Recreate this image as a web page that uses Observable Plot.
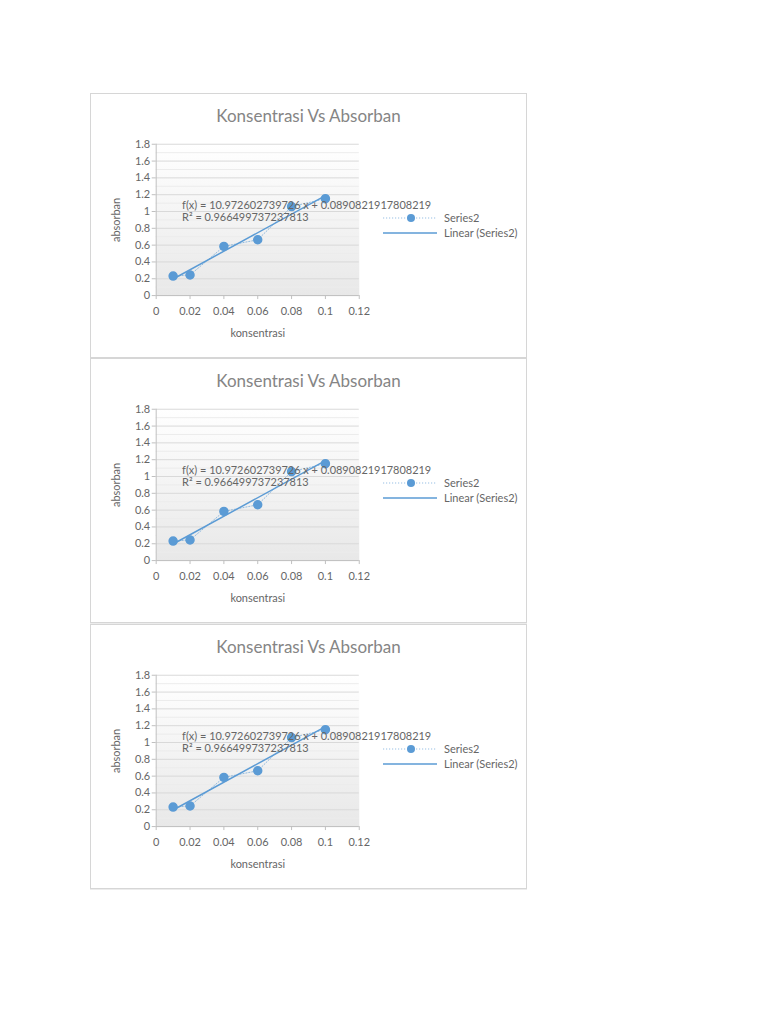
<!DOCTYPE html>
<html>
<head>
<meta charset="utf-8">
<script src="https://cdn.jsdelivr.net/npm/d3@7"></script>
<script src="https://cdn.jsdelivr.net/npm/@observablehq/plot@0.6"></script>
<style>
  html, body { margin: 0; padding: 0; background: #fff; }
  body { width: 768px; height: 1024px; position: relative; font-family: Lato, "Open Sans", sans-serif; }
  .box { position: absolute; left: 90px; width: 435px; height: 263px; border: 1px solid #d6d6d6; box-shadow: 0 1px 0 #ececec; background: #fff; }
  .title { position: absolute; left: 0; width: 100%; top: 11px; text-align: center; font-size: 17px; color: #858585; }
  .legend { position: absolute; left: 292px; font-size: 11px; color: #666; }
  .legend div { height: 15px; display: flex; align-items: center; }
  .legend svg { margin-right: 7px; }
  .plot { position: absolute; left: 0; top: 0; }
</style>
</head>
<body>
<script>
// ---- data ----
const konsentrasi = [0.01, 0.02, 0.04, 0.06, 0.08, 0.1];
const absorban = [0.232, 0.245, 0.585, 0.664, 1.058, 1.153];
const xTicks = [0, 0.02, 0.04, 0.06, 0.08, 0.1, 0.12];
const yTicks = [0, 0.2, 0.4, 0.6, 0.8, 1, 1.2, 1.4, 1.6, 1.8];
const yMinor = [0.1, 0.3, 0.5, 0.7, 0.9, 1.1, 1.3, 1.5, 1.7];
const chartTitle = "Konsentrasi Vs Absorban";
const xLabel = "konsentrasi";
const yLabel = "absorban";
const equation = "f(x) = 10.972602739726 x + 0.0890821917808219\nR² = 0.966499737237813";
const legendLabels = ["Series2", "Linear (Series2)"];
const boxTops = [93, 358, 624];

const blue = "#5b9bd5";
const txt = "#666666";
const data = konsentrasi.map((x, i) => ({x, y: absorban[i]}));

boxTops.forEach((top, k) => {
  const box = document.createElement("div");
  box.className = "box";
  box.style.top = top + "px";
  document.body.appendChild(box);

  const gid = "bg" + k;
  const defs = () => {
    const g = d3.create("svg:defs");
    const lg = g.append("linearGradient").attr("id", gid).attr("x1", 0).attr("y1", 0).attr("x2", 0).attr("y2", 1);
    lg.append("stop").attr("offset", "0%").attr("stop-color", "#ffffff");
    lg.append("stop").attr("offset", "100%").attr("stop-color", "#e8e8e8");
    return g.node();
  };

  const chart = Plot.plot({
    width: 437,
    height: 265,
    marginLeft: 66,
    marginRight: 167,
    marginTop: 51,
    marginBottom: 62,
    style: {fontFamily: "Lato, sans-serif", fontSize: "11px", color: txt, background: "transparent", overflow: "visible"},
    x: {domain: [0, 0.12]},
    y: {domain: [0, 1.8]},
    marks: [
      defs,
      Plot.frame({fill: `url(#${gid})`, stroke: "none"}),
      Plot.ruleY(yMinor, {stroke: "#ececec", strokeWidth: 1}),
      Plot.ruleY(yTicks, {stroke: "#d9d9d9", strokeWidth: 1}),
      Plot.ruleX([0], {stroke: "#bfbfbf"}),
      Plot.ruleY([0], {stroke: "#bfbfbf"}),
      Plot.axisX({ticks: xTicks, tickFormat: d => String(d), tickSize: 4, tickPadding: 8, stroke: "#bfbfbf", fill: txt,
        label: xLabel, labelAnchor: "center", labelOffset: 42, labelArrow: false}),
      Plot.axisY({ticks: yTicks, tickFormat: d => String(d), tickSize: 4, tickPadding: 2, stroke: "#bfbfbf", fill: txt,
        label: yLabel, labelAnchor: "center", labelOffset: 44, labelArrow: false}),
      Plot.line(data, {x: "x", y: "y", stroke: blue, strokeWidth: 0.8, strokeOpacity: 0.8, strokeDasharray: "1.2,1.8"}),
      Plot.linearRegressionY(data, {x: "x", y: "y", stroke: blue, strokeWidth: 1.5, ci: 0}),
      Plot.dot(data, {x: "x", y: "y", r: 4, fill: blue, stroke: blue}),
      Plot.text([equation], {frameAnchor: "top-left", dx: 26, dy: 56, textAnchor: "start", lineAnchor: "top", lineHeight: 1.1, fontSize: 11, fill: txt})
    ]
  });
  chart.classList.add("plot");
  chart.style.position = "absolute";
  chart.style.left = "-1px";
  chart.style.top = "-1px";
  box.appendChild(chart);

  const title = document.createElement("div");
  title.className = "title";
  title.textContent = chartTitle;
  box.appendChild(title);

  const legend = document.createElement("div");
  legend.className = "legend";
  legend.style.top = "116px";
  legend.innerHTML =
    `<div><svg width="54" height="10"><line x1="0" y1="5" x2="54" y2="5" stroke="${blue}" stroke-width="0.8" stroke-opacity="0.8" stroke-dasharray="1.2,1.8"/><circle cx="28" cy="5" r="4" fill="${blue}"/></svg><span>${legendLabels[0]}</span></div>` +
    `<div><svg width="54" height="10"><line x1="0" y1="5" x2="54" y2="5" stroke="${blue}" stroke-width="1.5"/></svg><span>${legendLabels[1]}</span></div>`;
  box.appendChild(legend);
});
</script>
</body>
</html>
